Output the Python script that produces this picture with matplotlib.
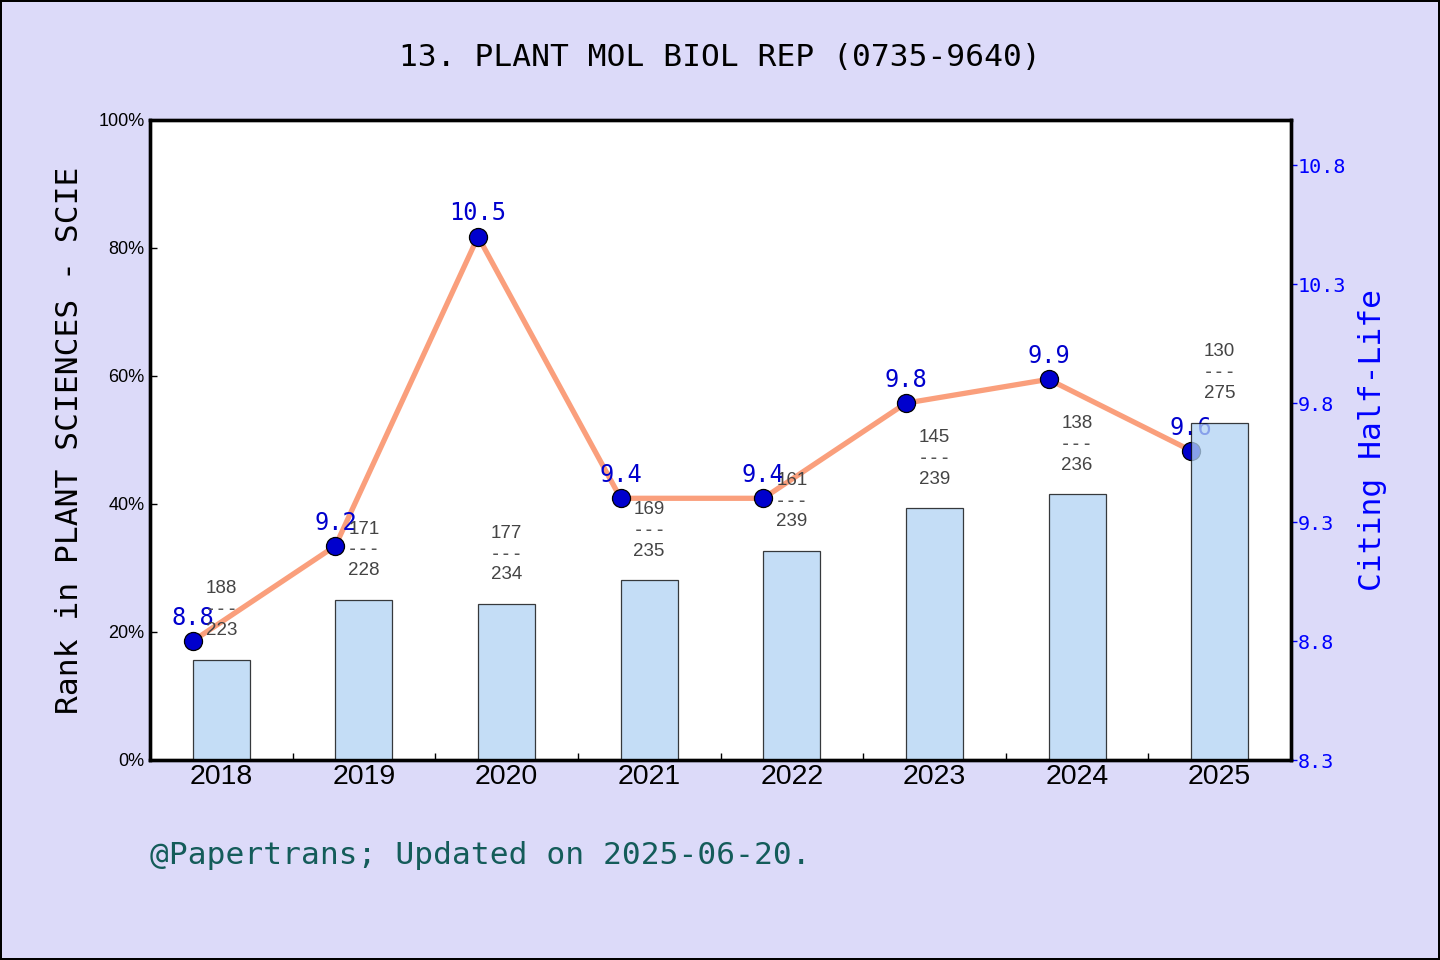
import matplotlib
matplotlib.use("Agg")
import matplotlib.pyplot as plt
import numpy as np

years = ["2018", "2019", "2020", "2021", "2022", "2023", "2024", "2025"]
ranks = [188, 171, 177, 169, 161, 145, 138, 130]
totals = [223, 228, 234, 235, 239, 239, 236, 275]
half_life = [8.8, 9.2, 10.5, 9.4, 9.4, 9.8, 9.9, 9.6]
right_ticks = [8.3, 8.8, 9.3, 9.8, 10.3, 10.8]

title = "13. PLANT MOL BIOL REP (0735-9640)"
footer = "@Papertrans; Updated on 2025-06-20."

BG = "#dcdaf9"
MONO = ["DejaVu Sans Mono"]
SANS = ["Liberation Sans", "DejaVu Sans"]

pct = [1 - r / t for r, t in zip(ranks, totals)]
x = np.arange(len(years))

fig = plt.figure(figsize=(14.4, 9.6), dpi=100, facecolor=BG,
                 edgecolor="black", linewidth=1.5)
ax = fig.add_axes([150/1440, 1-760/960, 1141/1440, 640/960])
ax2 = ax.twinx()

# layering: bars axis on top of line axis
ax.set_zorder(2)
ax.patch.set_visible(False)
ax2.set_zorder(1)
ax2.patch.set_visible(True)
ax2.patch.set_facecolor("white")

# line (right axis)
ax2.plot(x - 0.2, half_life, color="#fa9f7c", lw=3.8, zorder=2)
ax2.plot(x - 0.2, half_life, "o", ms=13, mfc="#0000cd", mec="black",
         mew=0.9, zorder=3)
for xi, v in zip(x, half_life):
    ax2.annotate(f"{v:.1f}", (xi - 0.2, v), xytext=(0, 8),
                 textcoords="offset points", ha="center", va="bottom",
                 fontsize=17, color="#0000cd", family=MONO, zorder=4)
ax2.set_ylim(8.3, 10.99)
ax2.set_yticks(right_ticks)
ax2.set_yticklabels([f"{t:.1f}" for t in right_ticks], family=MONO,
                    fontsize=14.5, color="#0000ff")
ax2.tick_params(axis="y", direction="out", length=4, width=1,
                colors="#0000ff", pad=1)
ax2.set_ylabel("Citing Half-Life", family=MONO, fontsize=22.5,
               color="#0000ff", labelpad=8)

# bars (left axis)
ax.bar(x, pct, width=0.4, color=(178/255, 211/255, 244/255), alpha=0.76,
       edgecolor="black", linewidth=0.9, zorder=2)
for xi, p, r, t in zip(x, pct, ranks, totals):
    ax.annotate(f"{t}", (xi, p), xytext=(0, 21),
                textcoords="offset points", ha="center", va="center",
                fontsize=13.5, color="#444444", family=SANS, zorder=3)
    ax.annotate("---", (xi, p), xytext=(0, 36),
                textcoords="offset points", ha="center", va="center",
                fontsize=13.5, color="#555555", family=MONO, zorder=3)
    ax.annotate(f"{r}", (xi, p), xytext=(0, 51),
                textcoords="offset points", ha="center", va="center",
                fontsize=13.5, color="#444444", family=SANS, zorder=3)
ax.set_ylim(0, 1)
ax.set_xlim(-0.5, len(years) - 0.5)
ax.set_yticks(np.linspace(0, 1, 6))
ax.set_yticklabels([f"{int(round(v*100))}%" for v in np.linspace(0, 1, 6)],
                   family=SANS, fontsize=13)
ax.tick_params(axis="y", direction="in", length=5, width=1, pad=4)
ax.set_xticks(x)
ax.set_xticklabels(years, family=SANS, fontsize=20.5)
ax.tick_params(axis="x", which="major", length=0, pad=3)
ax.set_xticks(np.arange(len(years) + 1) - 0.5, minor=True)
ax.tick_params(axis="x", which="minor", direction="in", length=5, width=1)
ax.set_ylabel("Rank in PLANT SCIENCES - SCIE", family=MONO, fontsize=22.5,
              labelpad=10)

for a in (ax, ax2):
    for s in a.spines.values():
        s.set_linewidth(2.4)

fig.text(0.5, 1 - 57/960, title, ha="center", va="center",
         family=MONO, fontsize=22.5, color="black")
fig.text(150/1440, 1 - 856/960, footer, ha="left", va="center",
         family=MONO, fontsize=22.5, color="#145c5a")

fig.savefig("out.png", dpi=100, facecolor=BG, edgecolor="black")
